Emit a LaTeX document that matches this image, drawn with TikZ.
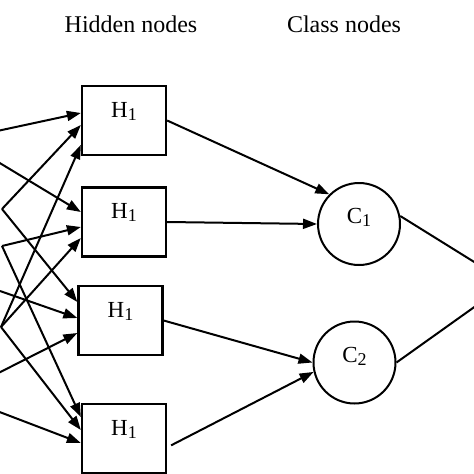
\documentclass[tikz,border=0pt]{standalone}
\usepackage{fontspec}
\setmainfont{Liberation Serif}
\usetikzlibrary{arrows.meta,calc}
\tikzset{
  conn/.style={line width=2pt,-{Triangle[length=14pt,width=10pt]}},
  plain/.style={line width=2pt},
  hbox/.style={draw,line width=2.3pt,minimum width=84pt,minimum height=69pt,inner sep=0pt,
    font=\fontsize{23}{23}\selectfont,text height=15pt,text depth=22pt},
  cnode/.style={draw,circle,line width=2pt,minimum size=82pt,inner sep=0pt,
    font=\fontsize{23}{23}\selectfont,text height=12pt,text depth=14pt},
  title/.style={font=\fontsize{24}{24}\selectfont,anchor=base,inner sep=0pt},
}
\newcommand{\subone}[1]{{\fontsize{18}{18}\selectfont\raisebox{-3pt}{#1}}}
\begin{document}
\begin{tikzpicture}[x=1pt,y=-1pt]
\useasboundingbox (0,0) rectangle (474,474);
\clip (0,0) rectangle (474,474);
\node[title] (th) at (131,32) {Hidden nodes};
\node[title] (tc) at (344,32) {Class nodes};
\node[hbox] (h1) at (124,120.5) {H\subone{1}};
\node[hbox] (h2) at (124,222) {H\subone{1}};
\node[hbox] (h3) at (120.5,320.5) {H\subone{1}};
\node[hbox] (h4) at (124,438.5) {H\subone{1}};
\node[cnode] (c1) at (359,224) {C\subone{1}};
\node[cnode,text depth=13pt] (c2) at (354.5,362.5) {C\subone{2}};
\coordinate (qt) at (-40,139);
\coordinate (p1) at (2,209);
\coordinate (p2) at (2,246);
\coordinate (p3) at (0,291);
\coordinate (p4) at (1,327);
\coordinate (qb) at (-45,395);
\coordinate (o) at (508,283);
% inputs to hidden
\draw[conn] (qt) -- ([yshift=7.5pt]h1.west);
\draw[conn] (qt) -- ([yshift=10pt]h2.west);
\draw[conn] (p1) -- ([yshift=-4.5pt]h1.west);
\draw[conn] (p1) -- ([yshift=18.5pt]h3.west);
\draw[conn] (p2) -- ([yshift=-5pt]h2.west);
\draw[conn] (p2) -- ([yshift=21.5pt]h4.west);
\draw[conn] (p3) -- ([yshift=2.5pt]h3.west);
\draw[conn] (p4) -- ([yshift=-24.5pt]h1.west);
\draw[conn] (p4) -- ([yshift=-16pt]h2.west);
\draw[conn] (p4) -- ([yshift=8.5pt]h4.west);
\draw[conn] (qb) -- ([yshift=-12.5pt]h3.west);
\draw[conn] (qb) -- ([yshift=-4.5pt]h4.west);
% hidden to class
\draw[conn] (h1.east) -- (c1.135);
\draw[conn] (h2.east) -- (c1.west);
\draw[conn] (h3.east) -- (c2.west);
\draw[conn] ([xshift=4pt]h4.-9) -- (c2.193);
% class to output
\draw[plain] (c1.11) -- (o);
\draw[plain] (c2.east) -- (o);
\end{tikzpicture}
\end{document}
